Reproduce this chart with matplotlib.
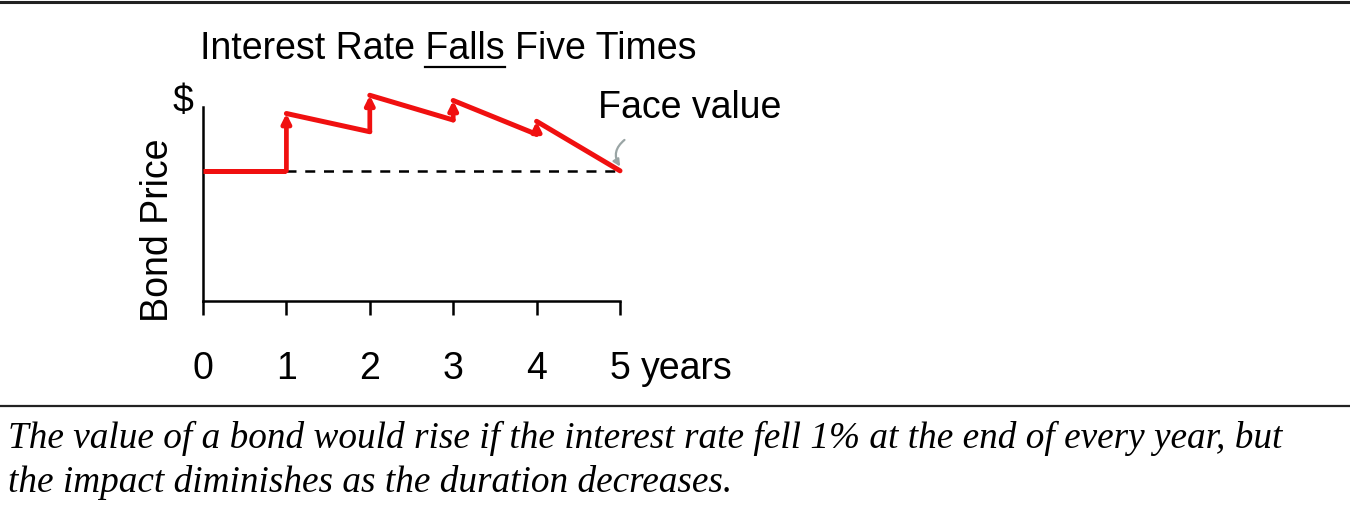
import matplotlib
matplotlib.use('Agg')
import matplotlib.pyplot as plt
from matplotlib.lines import Line2D

plt.rcParams['font.family'] = ['Liberation Sans', 'DejaVu Sans']

# bond price path (face value = 100)
years = [0, 1, 1, 2, 2, 3, 3, 4, 4, 5]
price = [100, 100, 144, 130, 158, 139, 154, 128, 138, 100]
face_value = 100
tick_years = [0, 1, 2, 3, 4, 5]
tick_labels = ['0', '1', '2', '3', '4', '5']

title = 'Interest Rate Falls Five Times'
caption = ['The value of a bond would rise if the interest rate fell 1% at the end of every year, but',
           'the impact diminishes as the duration decreases.']

W, H = 1350, 506
fig = plt.figure(figsize=(W / 100, H / 100), dpi=100)
ax = fig.add_axes([203 / W, (H - 302) / H, (620 - 203) / W, (302 - 108) / H])

red = '#f01010'
ax.plot(years[:2], price[:2], color=red, lw=3.6, solid_capstyle='butt', zorder=3, clip_on=False)
# sloping pieces between the rate cuts
for i in range(2, len(years) - 1, 2):
    ax.plot(years[i:i + 2], price[i:i + 2], color=red, lw=3.6, solid_capstyle='round',
            zorder=3, clip_on=False)
# jumps with arrowheads
for i in range(1, len(years) - 1, 2):
    ax.annotate('', xy=(years[i + 1], price[i + 1]), xytext=(years[i], price[i]),
                arrowprops=dict(arrowstyle='-|>', color=red, lw=3.4, mutation_scale=13,
                                shrinkA=0, shrinkB=0),
                zorder=3, annotation_clip=False)

ax.plot([1, 5], [face_value, face_value], color='black', lw=1.8, ls=(0, (4, 3.5)), zorder=2)

ax.set_xlim(0, 5)
ax.set_ylim(0, 149)
ax.spines['top'].set_visible(False)
ax.spines['right'].set_visible(False)
for s in ['left', 'bottom']:
    ax.spines[s].set_linewidth(1.8)
ax.set_xticks(tick_years)
ax.set_xticklabels(tick_labels)
ax.tick_params(axis='x', direction='out', length=10, width=1.8, pad=25, labelsize=27)
ax.set_yticks([])
ax.text(-0.108, 0.371, 'Bond Price', transform=ax.transAxes, fontsize=27, rotation=90,
        ha='center', va='center')
ax.text(-0.048, 1.03, '$', transform=ax.transAxes, fontsize=27, ha='center', va='center')
ax.annotate('years', xy=(5, 0), xycoords=('data', 'axes fraction'), xytext=(15, -35),
            textcoords='offset points', fontsize=27, ha='left', va='top', annotation_clip=False)

ax.text(4.74, 149, 'Face value', fontsize=27, ha='left', va='center', clip_on=False)
ax.annotate('', xy=(5.02, 101.5), xytext=(5.08, 125),
            arrowprops=dict(arrowstyle='-|>', color='#9aa5a5', lw=1.6, mutation_scale=10,
                            connectionstyle='arc3,rad=0.5'), annotation_clip=False)

# title with "Falls" underlined
tx, ty = 200 / W, 1 - 49 / H
t = fig.text(tx, ty, title, fontsize=27, ha='left', va='center')
fig.canvas.draw()
r = fig.canvas.get_renderer()
pre = fig.text(tx, ty, 'Interest Rate Falls', fontsize=27, ha='left', va='center')
word = fig.text(tx, ty, 'Falls', fontsize=27, ha='left', va='center')
x_end = pre.get_window_extent(r).x1
x_start = x_end - word.get_window_extent(r).width
y_ul = t.get_window_extent(r).y0 - 1
pre.remove()
word.remove()
fig.add_artist(Line2D([x_start / W, x_end / W], [y_ul / H, y_ul / H], color='black', lw=1.6,
                      transform=fig.transFigure))

# frame lines
fig.add_artist(Line2D([0, 1], [1 - 3 / H, 1 - 3 / H], color='#222222', lw=2.2, transform=fig.transFigure))
fig.add_artist(Line2D([0, 1], [1 - 407 / H, 1 - 407 / H], color='#222222', lw=1.6, transform=fig.transFigure))

for k, line in enumerate(caption):
    fig.text(8 / W, 1 - (438 + 45 * k) / H, line, family='Liberation Serif', style='italic',
             fontsize=26.8, ha='left', va='center')

fig.savefig('out.png', dpi=100)
